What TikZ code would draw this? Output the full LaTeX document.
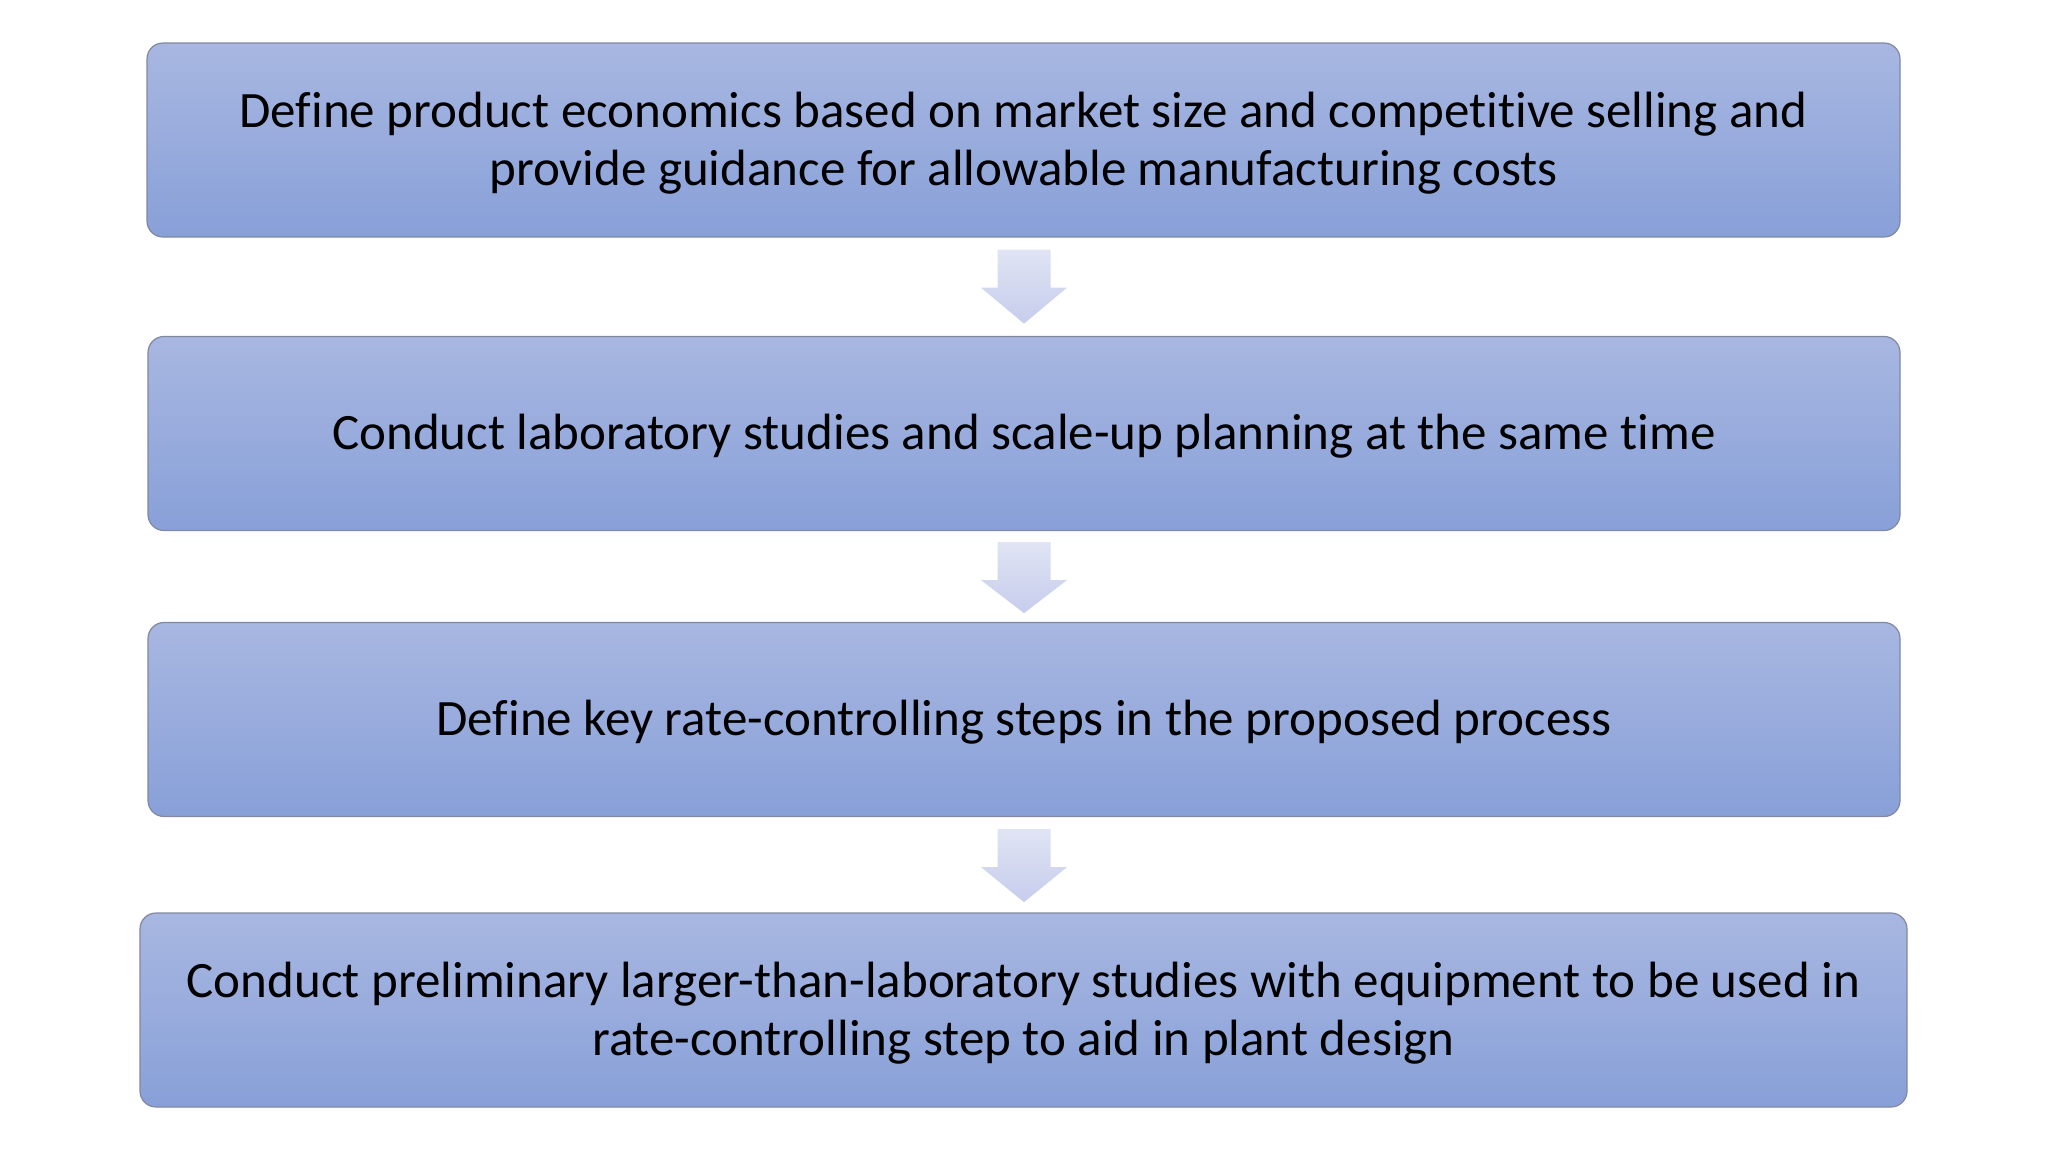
\documentclass[tikz,border=0pt]{standalone}
\usepackage{fontspec}
\setmainfont{Carlito}[Ligatures=NoCommon]
\usetikzlibrary{calc}
\definecolor{boxtop}{RGB}{168,183,225}
\definecolor{boxbot}{RGB}{136,160,216}
\definecolor{boxline}{RGB}{130,136,160}
\definecolor{arrtop}{RGB}{224,228,244}
\definecolor{arrbot}{RGB}{198,204,236}
\tikzset{
  stepbox/.style={rectangle, rounded corners=16pt, draw=boxline, line width=1.2pt,
    top color=boxtop, bottom color=boxbot, minimum height=194pt, inner sep=0pt},
  steptext/.style={align=center, text=black, font=\fontsize{51}{57.5}\selectfont, inner sep=0pt},
  blockarrow/.style={top color=arrtop, bottom color=arrbot, draw=none}
}
\newcommand{\downarrowshape}[2]{%
  % #1 top coordinate name, #2 length
  \path[blockarrow] ($(#1)+(-26.5,0)$) -- ($(#1)+(26.5,0)$) -- ($(#1)+(26.5,38)$) -- ($(#1)+(43,38)$)
    -- ($(#1)+(0,#2)$) -- ($(#1)+(-43,38)$) -- ($(#1)+(-26.5,38)$) -- cycle;}
\begin{document}
\begin{tikzpicture}[x=1pt,y=-1pt]
\path[fill=white] (0,0) rectangle (2048,1152);
\node[stepbox, minimum width=1753pt] (b1) at (1023.5,140) {};
\node[stepbox, minimum width=1752pt] (b2) at (1024,433.5) {};
\node[stepbox, minimum width=1752pt] (b3) at (1024,719.5) {};
\node[stepbox, minimum width=1767pt] (b4) at (1023.5,1010) {};
\node[steptext] (t1) at ($(b1.center)+(0,3)$) {Define product economics based on market size and competitive selling and\\provide guidance for allowable manufacturing costs};
\node[steptext] (t2) at ($(b2.center)+(0,3)$) {Conduct laboratory studies and scale-up planning at the same time};
\node[steptext] (t3) at ($(b3.center)+(0,3)$) {Define key rate-controlling steps in the proposed process};
\node[steptext] (t4) at ($(b4.center)+(0,3)$) {Conduct preliminary larger-than-laboratory studies with equipment to be used in\\rate-controlling step to aid in plant design};
\coordinate (a1) at ($(b1.south)+(0.5,12)$);
\coordinate (a2) at ($(b2.south)+(0,11)$);
\coordinate (a3) at ($(b3.south)+(0,12)$);
\downarrowshape{a1}{74}
\downarrowshape{a2}{71}
\downarrowshape{a3}{73}
\end{tikzpicture}
\end{document}
